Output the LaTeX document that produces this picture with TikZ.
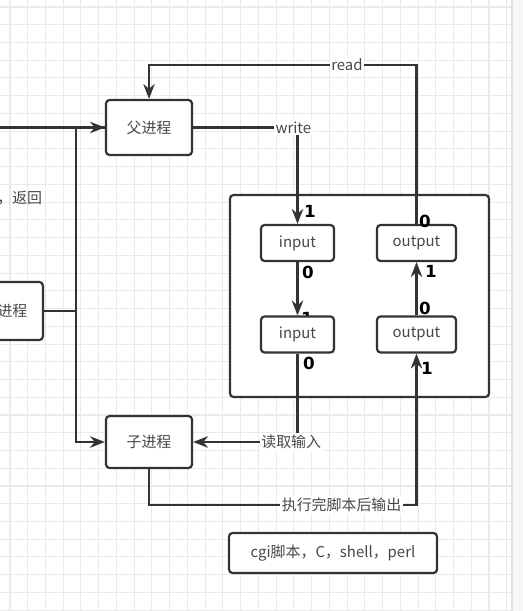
\documentclass[tikz,border=0pt]{standalone}
\usepackage{fontspec}
\setmainfont{Noto Sans CJK SC}
\newfontfamily\handfont{DejaVu Sans}
\usetikzlibrary{arrows.meta,positioning}
\definecolor{linegray}{RGB}{51,51,51}
\definecolor{textgray}{RGB}{72,72,72}
\definecolor{gridgray}{RGB}{234,234,234}
\tikzset{
  procbox/.style={draw=linegray, line width=1.25pt, rounded corners=2pt, fill=white, text=textgray, minimum width=1.72cm, minimum height=1.1cm, align=center, font=\fontsize{8.5}{10}\selectfont},
  pipebox/.style={procbox, minimum width=1.46cm, minimum height=0.72cm},
  lbl/.style={fill=white, text=textgray, inner sep=1pt, font=\fontsize{8.5}{10}\selectfont},
  conn/.style={draw=linegray, line width=1.25pt, ->},
  bit/.style={text=black, inner sep=0pt, font=\handfont\bfseries\fontsize{9.5}{10}\selectfont},
  gridline/.style={draw=gridgray, line width=0.6pt}
}

\begin{document}
\begin{tikzpicture}[x=0.02cm, y=-0.02cm, >={Stealth[length=8.5pt,width=6.5pt]}, line width=1.25pt]
  \useasboundingbox (0,0) rectangle (523,611);
  % background grid
  \fill[white] (0,0) rectangle (523,611);
  \foreach \gx in {0,...,28} \draw[gridline] ({10+17.74*\gx},0) -- ++(0,611);
  \foreach \gy in {0,...,34} \draw[gridline] (0,{7+17.74*\gy}) -- ++(512,0);
  \fill[gray!7] (512,0) rectangle (523,611);
  \draw[gray!25, line width=0.8pt] (512,0) -- (512,611);

  % processes
  \node[procbox] (parent) at (149,127.5) {父进程};
  \node[procbox, minimum height=1.04cm] (child) at (149,442) {子进程};
  \node[procbox, anchor=east, text width=1.2cm, align=right, inner xsep=0.31cm, minimum height=1.16cm] (server) at (44,311) {进程};
  \node[lbl, fill=none, anchor=east] (note) at (45,198) {，返回};

  % pipes
  \node[procbox, minimum width=5.18cm, minimum height=4.04cm] (pipes) at (359.5,296) {};
  \node[bit] at (307,318) {1};
  \node[pipebox] (in1) at (297.5,243) {input};
  \node[pipebox] (in2) at (297.5,334.5) {input};
  \node[pipebox, minimum width=1.58cm] (out1) at (416.5,243) {output};
  \node[pipebox, minimum width=1.58cm] (out2) at (416.5,334.5) {output};
  \node[procbox, minimum width=4.16cm, minimum height=0.8cm] (cgi) at (333,553) {cgi脚本，C，shell，perl};

  % connectors
  \coordinate (edgein) at (-5,127.5);
  \coordinate (jn) at (76,311);
  \coordinate (readtop) at (416.5,65);
  \coordinate (outbot) at (416.5,505);
  \draw[conn] (edgein) -- (parent.west);
  \draw[draw=linegray] (server.east) -- (jn) |- (parent.west);
  \draw[conn] (jn) |- (child.west);
  \draw[conn] (out1.north) -- (readtop) -| node[lbl, pos=0.13] {read} (parent.north);
  \draw[conn] (parent.east) -| node[lbl, pos=0.48] {write} (in1.north);
  \draw[conn] (in1) -- (in2);
  \draw[conn] (out2) -- (out1);
  \draw[conn] (in2.south) |- node[lbl, pos=0.53] {读取输入} (child.east);
  \draw[conn] (child.south) |- node[lbl, pos=0.86] {执行完脚本后输出} (outbot) -- (out2.south);

  % handwritten bits
  \node[bit] at (310,211) {1};
  \node[bit] at (308,272) {0};
  \node[bit] at (309,363) {0};
  \node[bit] at (425,221) {0};
  \node[bit] at (431,271) {1};
  \node[bit] at (425,308) {0};
  \node[bit] at (427,368) {1};
\end{tikzpicture}
\end{document}
